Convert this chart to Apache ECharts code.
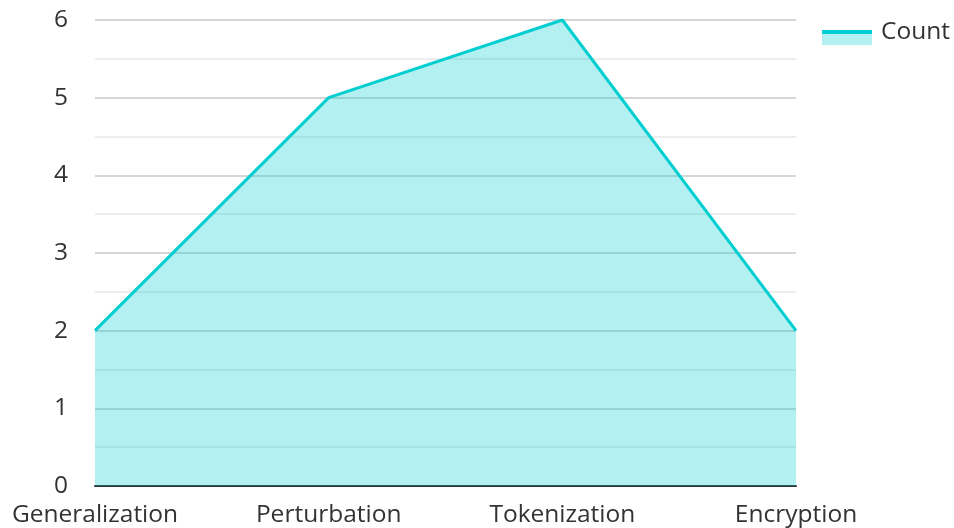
<!DOCTYPE html>
<html><head><meta charset="utf-8">
<script src="https://cdn.jsdelivr.net/npm/echarts@6/dist/echarts.min.js"></script>
<style>html,body{margin:0;padding:0;background:#fff}#c{width:954px;height:528px}</style>
</head><body><div id="c"></div>
<script>
const categories = ['Generalization', 'Perturbation', 'Tokenization', 'Encryption'];
const counts = [2, 5, 6, 2];
const yTicks = [0, 1, 2, 3, 4, 5, 6];

const legendSvg = '<svg xmlns="http://www.w3.org/2000/svg" width="50" height="25">' +
  '<rect x="0" y="14" width="50" height="11" fill="#b3f0f1"/>' +
  '<rect x="0" y="10" width="50" height="4" fill="#00CED1"/></svg>';
const legendIcon = 'image://data:image/svg+xml;charset=utf-8,' + encodeURIComponent(legendSvg);

const chart = echarts.init(document.getElementById('c'));
chart.setOption({
  animation: false,
  textStyle: { fontFamily: 'Open Sans' },
  legend: {
    data: [{ name: 'Count', icon: legendIcon }],
    right: 4, top: 20, padding: 0,
    itemWidth: 50, itemHeight: 25, itemGap: 10,
    textStyle: { fontSize: 24.5, color: '#333', fontFamily: 'Open Sans', padding: [0, 0, 0, 4] }
  },
  grid: { left: 95, right: 158, top: 20, bottom: 42, containLabel: false },
  xAxis: {
    type: 'category', data: categories, boundaryGap: false,
    axisLine: { lineStyle: { color: '#333', width: 2 } },
    axisTick: { show: false },
    axisLabel: { fontSize: 24.5, color: '#333', margin: 17, fontFamily: 'Open Sans' }
  },
  yAxis: {
    type: 'value', min: yTicks[0], max: yTicks[yTicks.length - 1], interval: 1,
    axisLine: { show: false }, axisTick: { show: false },
    axisLabel: { fontSize: 24.5, color: '#333', margin: 27, fontFamily: 'Open Sans' },
    splitLine: { lineStyle: { color: '#c8c8c8', width: 1.5 } },
    minorTick: { show: false, splitNumber: 2 },
    minorSplitLine: { show: true, lineStyle: { color: '#e8e8e8', width: 1.5 } }
  },
  series: [{
    name: 'Count', type: 'line', data: counts,
    symbol: 'none', showSymbol: false,
    lineStyle: { color: '#00CED1', width: 3 },
    itemStyle: { color: '#00CED1' },
    areaStyle: { color: '#00CED1', opacity: 0.3 }
  }]
});
</script></body></html>
